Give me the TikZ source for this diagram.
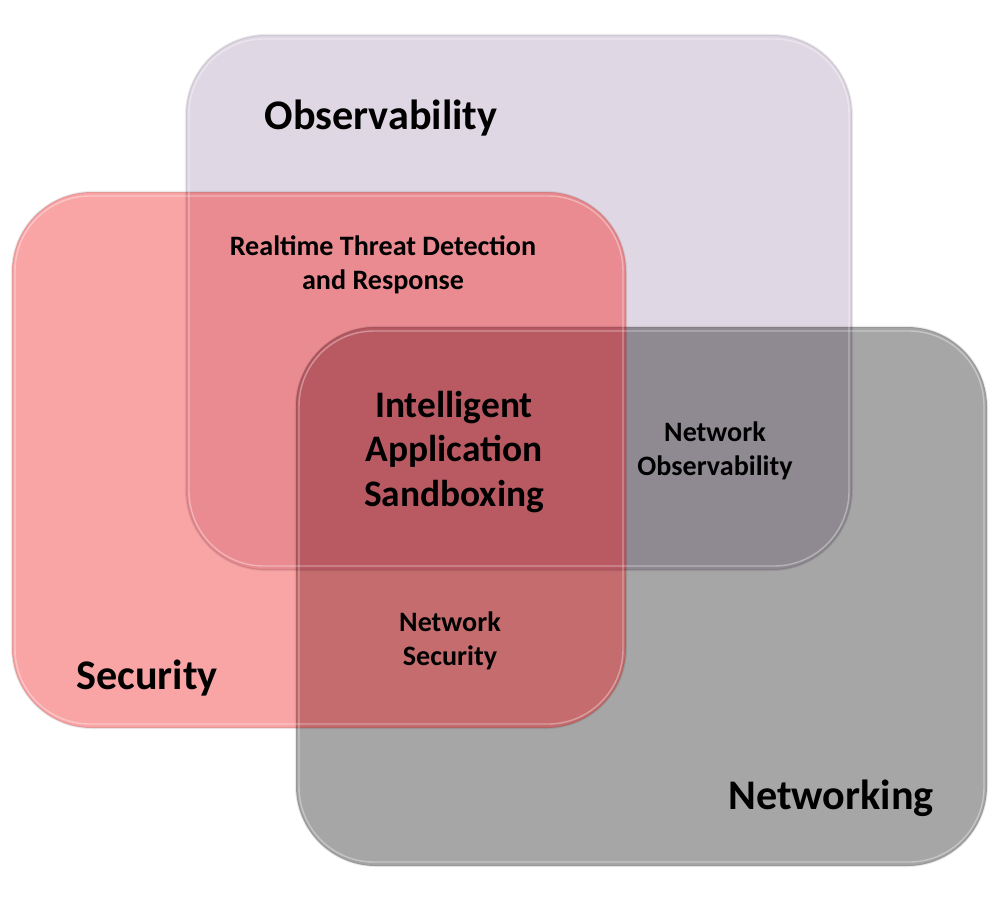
\documentclass[tikz,border=0pt]{standalone}
\usepackage{fontspec}
\setmainfont{Carlito}
\usetikzlibrary{positioning}
\definecolor{obsfill}{HTML}{E0D7E4}
\definecolor{secfill}{HTML}{F9A5A6}
\definecolor{netfill}{HTML}{A6A6A6}
\definecolor{obssec}{HTML}{E98B90}
\definecolor{obsnet}{HTML}{8F8A91}
\definecolor{secnet}{HTML}{C46C6E}
\definecolor{allthree}{HTML}{B95A63}
\tikzset{
  venn/.style={rounded corners=1.6cm},
  boxedge/.style={venn, draw=black, draw opacity=0.08, line width=1.2pt},
  glint/.style={rounded corners=1.5cm, draw=white, draw opacity=0.35, line width=0.8pt},
  biglabel/.style={font=\bfseries\fontsize{24}{28}\selectfont, align=center},
  midlabel/.style={font=\bfseries\fontsize{21.3}{25.4}\selectfont, align=center},
  smalllabel/.style={font=\bfseries\fontsize{16}{19.3}\selectfont, align=center},
}
\newcommand{\obsrect}{(186,35) rectangle (852,570)}
\newcommand{\secrect}{(12,192) rectangle (626,728)}
\newcommand{\netrect}{(296,327) rectangle (987,866)}

\begin{document}
\begin{tikzpicture}[x=0.02cm,y=-0.02cm]
\useasboundingbox (0,0) rectangle (1000,897);
% the three sets
\fill[obsfill, venn] \obsrect;
\fill[secfill, venn] \secrect;
\fill[netfill, venn] \netrect;
% overlaps
\begin{scope}
  \clip[venn] \obsrect;
  \fill[obssec, venn] \secrect;
  \fill[obsnet, venn] \netrect;
\end{scope}
\begin{scope}
  \clip[venn] \secrect;
  \fill[secnet, venn] \netrect;
  \clip[venn] \obsrect;
  \fill[allthree, venn] \netrect;
\end{scope}
% edges
\draw[boxedge] \obsrect;
\draw[boxedge] \secrect;
\draw[boxedge] \netrect;
\draw[glint] (189,39) rectangle (849,566);
\draw[glint] (15,196) rectangle (623,724);
\draw[glint] (299,331) rectangle (984,862);
% labels
\node[biglabel] (obs) at (381,118) {Observability};
\node[biglabel] (sec) at (147,678) {Security};
\node[biglabel] (net) at (831,798) {Networking};
\node[midlabel] (ias) at (454,452) {Intelligent\\Application\\Sandboxing};
\node[smalllabel] (rtdr) at (383,265) {Realtime Threat Detection\\and Response};
\node[smalllabel] (netobs) at (715,451) {Network\\Observability};
\node[smalllabel] (netsec) at (450,641) {Network\\Security};
\end{tikzpicture}
\end{document}
